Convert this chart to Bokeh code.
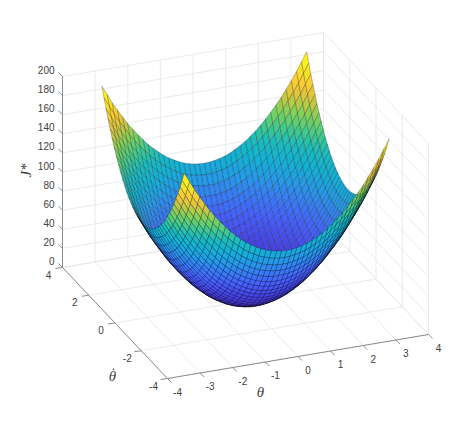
import numpy as np
from bokeh.plotting import figure
from bokeh.embed import file_html
from bokeh.resources import INLINE
from bokeh.core.properties import value

# ---- data ----
theta = [-3.14,-2.98,-2.83,-2.67,-2.51,-2.36,-2.20,-2.04,-1.88,-1.73,-1.57,-1.41,-1.26,-1.10,-0.94,-0.79,-0.63,-0.47,-0.31,-0.16,0.0,
         0.16,0.31,0.47,0.63,0.79,0.94,1.10,1.26,1.41,1.57,1.73,1.88,2.04,2.20,2.36,2.51,2.67,2.83,2.98,3.14]
theta_dot = list(theta)
# contribution of each coordinate to J*, read along the surface edges
J_theta = [98.7,89.1,79.9,71.3,63.2,55.5,48.4,41.7,35.5,29.9,24.7,20.0,15.8,12.1,8.9,6.2,3.9,2.2,1.0,0.2,0.0,
           0.2,1.0,2.2,3.9,6.2,8.9,12.1,15.8,20.0,24.7,29.9,35.5,41.7,48.4,55.5,63.2,71.3,79.9,89.1,98.7]
J_theta_dot = list(J_theta)

x_ticks = [-4,-3,-2,-1,0,1,2,3,4]
y_ticks = [-4,-2,0,2,4]
z_ticks = [0,20,40,60,80,100,120,140,160,180,200]

parula_pos = [0,0.095,0.19,0.3,0.4,0.5,0.6,0.7,0.8,0.9,0.95,1.0]
parula_r = [0.2422,0.2783,0.2699,0.1540,0.0689,0.1100,0.2809,0.5044,0.8000,0.9970,0.9606,0.9769]
parula_g = [0.1504,0.2559,0.3892,0.5902,0.6948,0.7400,0.7964,0.8200,0.7800,0.7659,0.8900,0.9839]
parula_b = [0.6603,0.8991,0.9906,0.9218,0.8394,0.7300,0.5266,0.3480,0.2500,0.2199,0.1500,0.0805]
color_in = [0, 0.18, 0.39, 0.57, 0.76, 0.86, 1.0]
color_out = [0, 0.11, 0.27, 0.47, 0.76, 0.92, 1.0]

# ---- oblique view: image pixels per data unit ----
U0, V0 = 245.0, 300.5
UX, UY = 32.625, -13.125
VX, VY, VZ = -5.5, -13.875, -0.955
CAM = np.array([-0.336, -0.842, 0.422])      # towards the viewer, world units
WXY, WZ = 35.2, 1.054


def proj(x, y, z):
    x, y, z = np.asarray(x, float), np.asarray(y, float), np.asarray(z, float)
    return U0 + UX * x + UY * y, V0 + VX * x + VY * y + VZ * z


p = figure(width=458, height=409, x_range=(0, 458), y_range=(409, 0),
           toolbar_location=None, output_backend="svg", min_border=0)
p.axis.visible = False
p.grid.visible = False
p.outline_line_color = None
p.background_fill_color = "white"

GRID = "#e6e6e6"
AX = "#8c8c8c"
TXT = "#404040"

xs, ys = [], []


def seg(a, b):
    u, v = proj([a[0], b[0]], [a[1], b[1]], [a[2], b[2]])
    xs.append(list(u)); ys.append(list(v))


for t in x_ticks:
    seg((t, -4, 0), (t, 4, 0))
    seg((t, 4, 0), (t, 4, 200))
for t in y_ticks:
    seg((-4, t, 0), (4, t, 0))
    seg((4, t, 0), (4, t, 200))
for t in z_ticks:
    seg((-4, 4, t), (4, 4, t))
    seg((4, 4, t), (4, -4, t))
p.multi_line(xs, ys, line_color=GRID, line_width=0.8)

# axis lines and tick marks
ax_x, ax_y = [], []


def axseg(u0, v0, u1, v1):
    ax_x.append([u0, u1]); ax_y.append([v0, v1])


u, v = proj([-4, -4], [4, 4], [0, 200]); axseg(u[0], v[0], u[1], v[1])
u, v = proj([-4, -4], [4, -4], [0, 0]); axseg(u[0], v[0], u[1], v[1])
u, v = proj([-4, 4], [-4, -4], [0, 0]); axseg(u[0], v[0], u[1], v[1])
for t in z_ticks:
    u, v = proj(-4, 4, t); axseg(float(u), float(v), float(u) - 4, float(v) - 4)
for t in y_ticks:
    u, v = proj(-4, t, 0); axseg(float(u), float(v), float(u) - 7, float(v) + 1)
for t in x_ticks:
    u, v = proj(t, -4, 0); axseg(float(u), float(v), float(u) + 4, float(v) + 4)
p.multi_line(ax_x, ax_y, line_color=AX, line_width=1)

# surface cells, far to near
TH, TD = np.meshgrid(theta, theta_dot, indexing="ij")
JJ = np.add.outer(np.array(J_theta), np.array(J_theta_dot))
zmax = JJ.max()
cells = []
for i in range(len(theta) - 1):
    for j in range(len(theta_dot) - 1):
        ii = [i, i + 1, i + 1, i]
        jj = [j, j, j + 1, j + 1]
        cx, cy, cz = TH[ii, jj], TD[ii, jj], JJ[ii, jj]
        a = np.array([(cx[2] - cx[0]) * WXY, (cy[2] - cy[0]) * WXY, (cz[2] - cz[0]) * WZ])
        b = np.array([(cx[3] - cx[1]) * WXY, (cy[3] - cy[1]) * WXY, (cz[3] - cz[1]) * WZ])
        n = np.cross(a, b); n = n / np.linalg.norm(n)
        ndc = abs(float(n @ CAM))
        shade = min(1.0, 0.45 + 3.2 * ndc)
        f = float(np.interp(cz.mean() / zmax, color_in, color_out))
        rgb = [np.interp(f, parula_pos, ch) for ch in (parula_r, parula_g, parula_b)]
        col = "#%02x%02x%02x" % tuple(int(round(255 * c * shade)) for c in rgb)
        depth = float(CAM[0] * cx.mean() * WXY + CAM[1] * cy.mean() * WXY + CAM[2] * cz.mean() * WZ)
        u, v = proj(cx, cy, cz)
        cells.append((depth, list(u), list(v), col))
cells.sort(key=lambda c: c[0])
p.patches([c[1] for c in cells], [c[2] for c in cells], fill_color=[c[3] for c in cells],
          line_color="#000000", line_alpha=0.45, line_width=0.5)

# tick labels
FONT = value("Liberation Sans")
u, v = proj([-4] * len(z_ticks), [4] * len(z_ticks), z_ticks)
p.text(u - 8, v - 6.5, text=[str(t) for t in z_ticks], text_font=FONT, text_font_size="10px",
       text_color=TXT, text_align="right", text_baseline="middle")
u, v = proj([-4] * len(y_ticks), y_ticks, [0] * len(y_ticks))
p.text(u - 14, v + 7, text=[str(t) for t in y_ticks], text_font=FONT, text_font_size="10px",
       text_color=TXT, text_align="center", text_baseline="middle")
u, v = proj(x_ticks, [-4] * len(x_ticks), [0] * len(x_ticks))
p.text(u + 10, v + 13, text=[str(t) for t in x_ticks], text_font=FONT, text_font_size="10px",
       text_color=TXT, text_align="center", text_baseline="middle")

# axis titles
SERIF = value("Liberation Serif")
p.text([260], [391], text=["θ"], text_font=SERIF, text_font_style="italic", text_font_size="15px",
       text_color=TXT, text_align="center", text_baseline="middle")
p.text([112], [375], text=["θ"], text_font=SERIF, text_font_style="italic", text_font_size="15px",
       text_color=TXT, text_align="center", text_baseline="middle")
p.text([113], [372], text=["˙"], text_font=SERIF, text_font_size="15px",
       text_color=TXT, text_align="center", text_baseline="middle")
p.text([25], [170], text=["J*"], text_font=SERIF, text_font_style="italic", text_font_size="15px",
       text_color=TXT, text_align="center", text_baseline="middle", angle=np.pi / 2)

open("out.html", "w").write(file_html(p, INLINE))
